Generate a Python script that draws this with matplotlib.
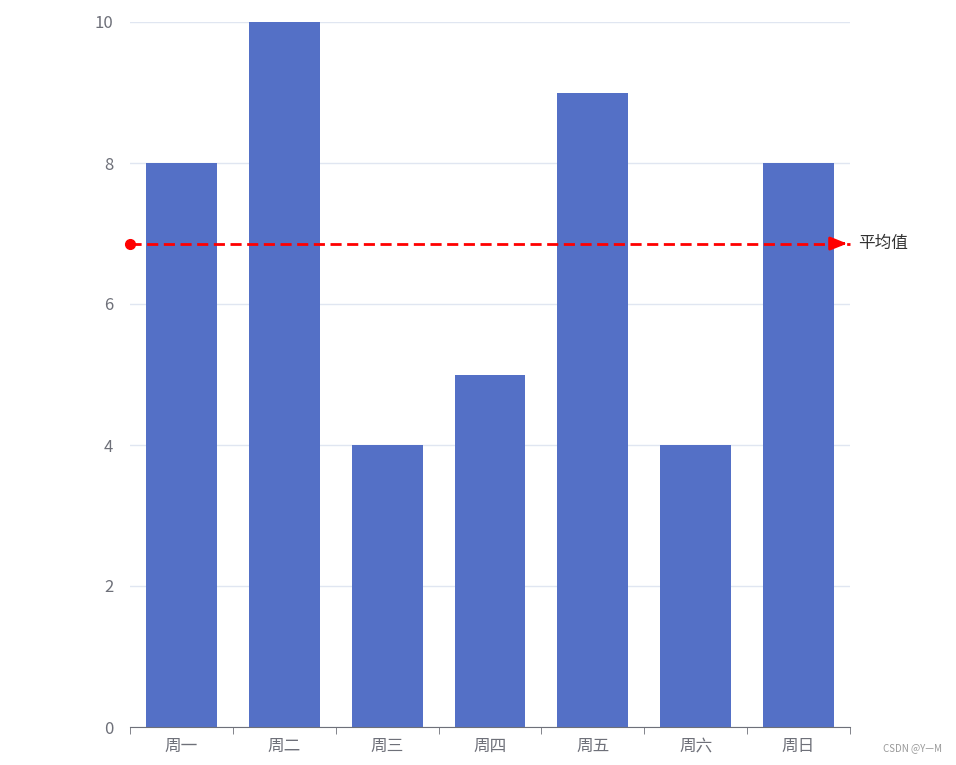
import matplotlib.pyplot as plt

plt.rcParams['font.family'] = ['Noto Sans CJK SC', 'DejaVu Sans']

days = ["周一", "周二", "周三", "周四", "周五", "周六", "周日"]
values = [8, 10, 4, 5, 9, 4, 8]
avg = sum(values) / len(values)

fig = plt.figure(figsize=(9.56, 7.65), dpi=100)
ax = fig.add_axes([130 / 956, 38 / 765, 720 / 956, 705 / 765])

x = list(range(len(days)))
ax.bar(x, values, width=0.69, color="#5470c6", zorder=2)
ax.set_xlim(-0.5, len(days) - 0.5)
ax.set_ylim(0, 10)
ax.set_yticks([0, 2, 4, 6, 8, 10])
ax.grid(axis="y", color="#e0e6f1", linewidth=1, zorder=0)
ax.set_xticks(x)
ax.set_xticklabels(days)
ax.set_xticks([i - 0.5 for i in range(len(days) + 1)], minor=True)
ax.tick_params(axis="x", which="major", length=0, colors="#6e7079", labelsize=12, pad=8)
ax.tick_params(axis="x", which="minor", length=5, color="#6e7079")
ax.tick_params(axis="y", length=0, colors="#6e7079", labelsize=12, pad=12)
for s in ["top", "right", "left"]:
    ax.spines[s].set_visible(False)
ax.spines["bottom"].set_color("#6e7079")

# average mark line
ax.plot([-0.5, len(days) - 0.5], [avg, avg], color="red", linestyle=(0, (4, 2)),
        linewidth=2, zorder=3, clip_on=False)
ax.plot([-0.5], [avg], "o", color="red", markersize=7, clip_on=False, zorder=4)
ax.annotate("", xy=(len(days) - 0.5, avg), xytext=(len(days) - 0.62, avg),
            arrowprops=dict(arrowstyle="-|>,head_length=1.0,head_width=0.4",
                            color="red", lw=2), annotation_clip=False, zorder=4)
ax.text(len(days) - 0.42, avg, "平均值", va="center", ha="left", fontsize=12, color="#333333")

fig.text(942 / 956, 12 / 765, "CSDN @Y—M", ha="right", va="bottom", fontsize=7, color="#999999")

fig.savefig("out.png", dpi=100)
